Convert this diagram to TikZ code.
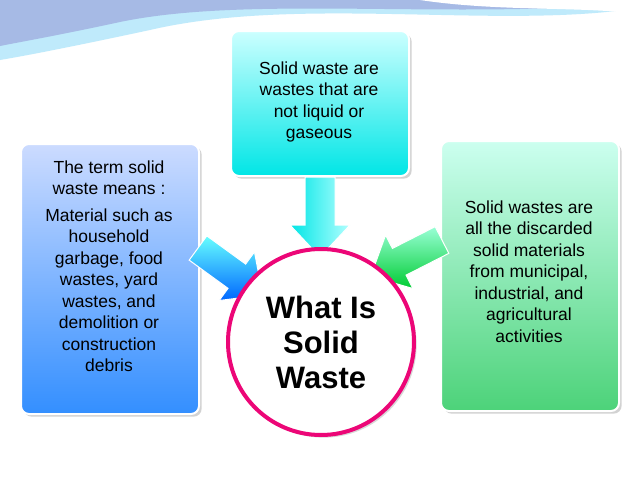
\documentclass[tikz,border=0pt]{standalone}
\usepackage{fontspec}
\setmainfont{Liberation Sans}
\usetikzlibrary{shadows}
\begin{document}
\begin{tikzpicture}[x=1pt,y=-1pt,
 box/.style={draw=white,line width=2pt,rounded corners=8pt,drop shadow={opacity=0.35},minimum width=178pt},
 btext/.style={font=\fontsize{17.5}{21.5}\selectfont,align=center,anchor=north},
 barrow/.pic={\draw[white,line width=1pt,pic actions] (0,-15) -- (48,-15) -- (48,-30) -- (80,0) -- (48,30) -- (48,15) -- (0,15) -- cycle;}]
\useasboundingbox (0,0) rectangle (638,479);
\fill[white] (0,0) rectangle (638,479);
% top waves
\fill[cyan!25] (0,0) -- (638,0) -- (638,8) .. controls (500,30) and (300,-5) .. (150,30) .. controls (80,45) and (30,55) .. (0,60) -- cycle;
\fill[cyan!45!blue!35] (0,0) -- (638,0) -- (638,3) .. controls (450,20) and (250,-5) .. (120,22) .. controls (60,35) and (20,42) .. (0,46) -- cycle;
\fill[white] (638,0) -- (420,0) .. controls (500,12) and (580,6) .. (638,14) -- cycle;
% boxes
\node[box,top color=cyan!30!blue!20,bottom color=blue!55!cyan!80,minimum height=270pt,anchor=north west] (L) at (20,143) {};
\node[btext] (Lt) at (109,157) {The term solid\\waste means :\\[5pt]Material such as\\household\\garbage, food\\wastes, yard\\wastes, and\\demolition or\\construction\\debris};
\node[box,top color=cyan!20,bottom color=cyan!80!teal,minimum height=145pt,anchor=north west] (T) at (230,30) {};
\node[btext] (Tt) at (319,58) {Solid waste are\\wastes that are\\not liquid or\\gaseous};
\node[box,top color=green!30!cyan!20,bottom color=green!50!teal!70,minimum height=270pt,anchor=north west] (R) at (440,140) {};
\node[btext] (Rt) at (529,197) {Solid wastes are\\all the discarded\\solid materials\\from municipal,\\industrial, and\\agricultural\\activities};
% arrows
\coordinate (aL) at (198,248);
\coordinate (aT) at (320,177);
\coordinate (aR) at (442,240);
\pic[top color=cyan!60,bottom color=blue!60!cyan,rotate=-36] at (aL) {barrow};
\pic[left color=cyan!80!teal,right color=cyan!30,rotate=-90] at (aT) {barrow};
\pic[top color=green!40!cyan!40,bottom color=green!60!teal,rotate=-153] at (aR) {barrow};
% circle
\node[circle,draw=magenta!80!red,line width=4pt,fill=white,minimum size=186pt,drop shadow={opacity=0.3},font=\bfseries\fontsize{31}{35}\selectfont,align=center] (C) at (321,342) {What Is\\Solid\\Waste};
\end{tikzpicture}
\end{document}
